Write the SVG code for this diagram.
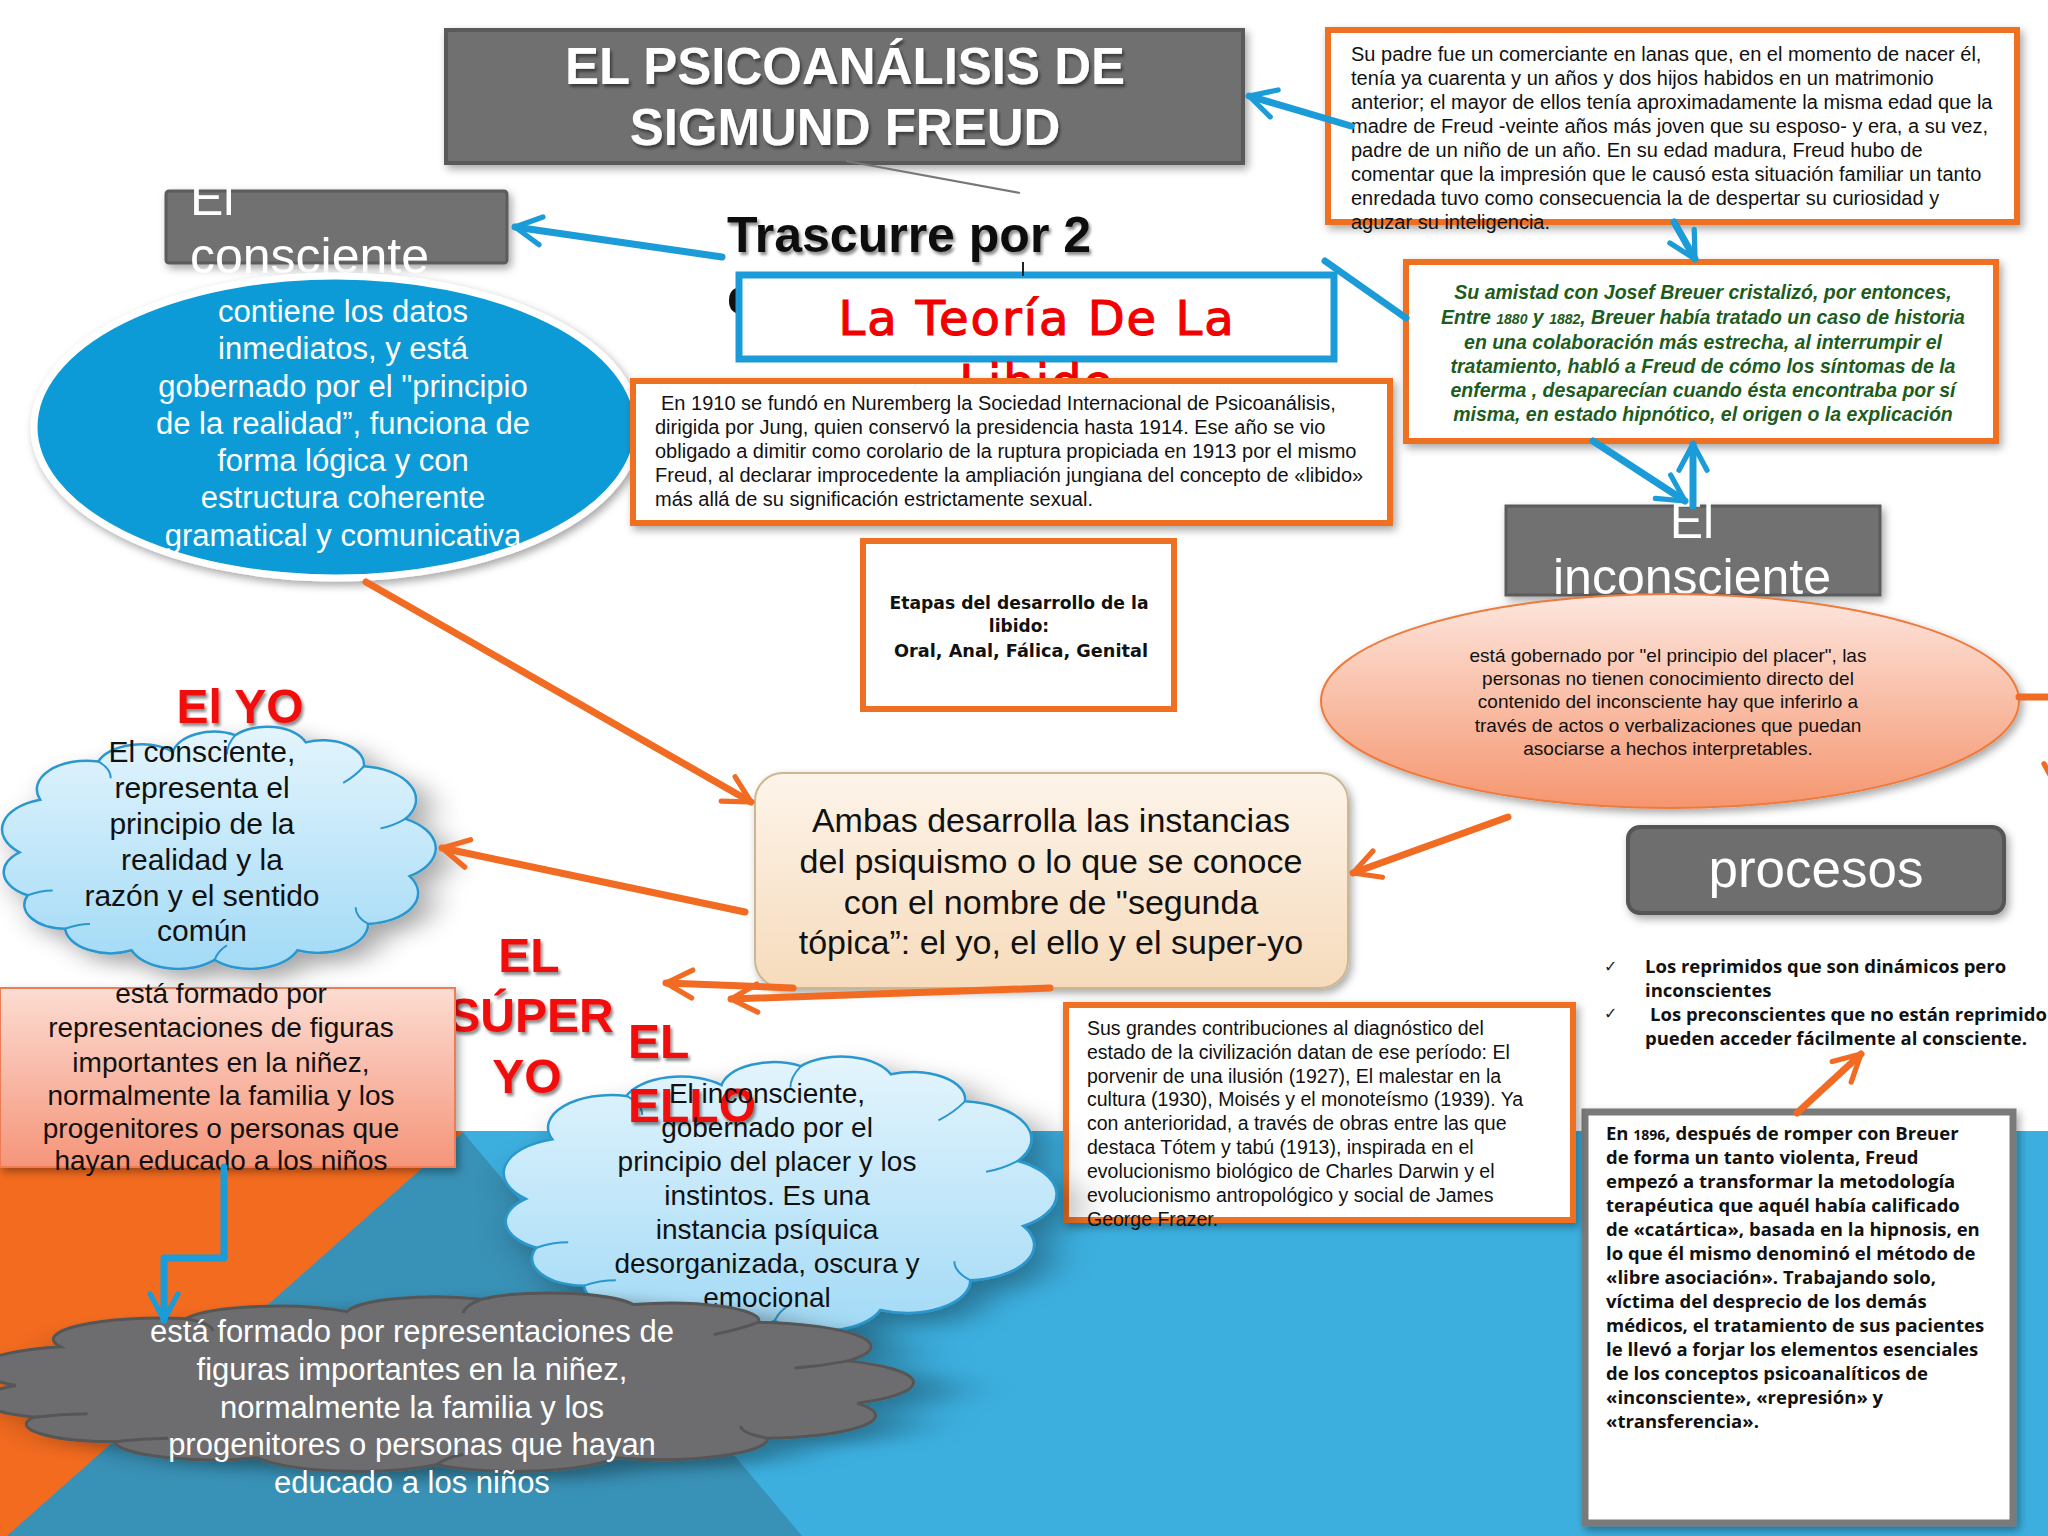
<svg xmlns="http://www.w3.org/2000/svg" xmlns:xlink="http://www.w3.org/1999/xlink" width="2048" height="1536" viewBox="0 0 2048 1536">
<style>
.s{font-family:"Liberation Sans",Arial,sans-serif}
.l{font-family:"Open Sans","Liberation Sans",sans-serif;font-weight:bold}
.c{font-family:"DejaVu Sans",sans-serif}
.m{text-anchor:middle}
.w{fill:#fff}
.k{fill:#111}
.b{font-weight:bold}
.red{fill:#f20d0d;font-weight:bold;font-family:"Liberation Sans",Arial,sans-serif;font-size:48px}
.ob{fill:#fff;stroke:#f07023;stroke-width:6}
.gb{fill:#717171;stroke:#5b5b5b;stroke-width:3}
.cb{fill:none;stroke:#1b9cd8;stroke-width:7;stroke-linecap:round;stroke-linejoin:round}
.co{fill:none;stroke:#f26b22;stroke-width:7;stroke-linecap:round;stroke-linejoin:round}
</style>
<defs>
<filter id="sh" x="-10%" y="-10%" width="130%" height="140%"><feDropShadow dx="3" dy="4" stdDeviation="4" flood-color="#000" flood-opacity="0.35"/></filter>
<filter id="ts" x="-5%" y="-10%" width="115%" height="130%"><feDropShadow dx="2" dy="3" stdDeviation="1.5" flood-color="#000" flood-opacity="0.45"/></filter>
<linearGradient id="gCloud" x1="0" y1="0" x2="0" y2="1"><stop offset="0" stop-color="#e4f5fd"/><stop offset="1" stop-color="#a2daf6"/></linearGradient>
<linearGradient id="gSalR" x1="0" y1="0" x2="0" y2="1"><stop offset="0" stop-color="#fcdcd2"/><stop offset="1" stop-color="#f5957a"/></linearGradient>
<linearGradient id="gSalE" x1="0" y1="0" x2="0" y2="1"><stop offset="0" stop-color="#fde6de"/><stop offset="1" stop-color="#f5966f"/></linearGradient>
<linearGradient id="gBeige" x1="0" y1="0" x2="0" y2="1"><stop offset="0" stop-color="#fdf4ea"/><stop offset="1" stop-color="#f6dbbb"/></linearGradient>
<path id="cloud" vector-effect="non-scaling-stroke" d="M3,52 A13,13 0 0 1 8,30 A12,12 0 0 1 22,14 A11,11 0 0 1 40,10 A10,10 0 0 1 55,3 A10,10 0 0 1 72,6 A10,10 0 0 1 86,16 A14,14 0 0 1 96,38 A14,14 0 0 1 97,62 A13,13 0 0 1 87,82 A12,12 0 0 1 70,93 A12,12 0 0 1 50,97 A12,12 0 0 1 30,93 A11,11 0 0 1 14,84 A10,10 0 0 1 5,70 A11,11 0 0 1 3,52 Z"/>
<path id="cloudIn" vector-effect="non-scaling-stroke" fill="none" d="M22,14 Q25,17 25,21 M55,3 Q53,7 53,11 M86,16 Q84,20 81,23 M96,38 Q93,41 90,42 M87,82 Q84,79 84,75 M50,97 Q51,93 53,91 M14,84 Q17,82 20,82 M5,70 Q8,68 11,68"/>
<marker id="ab" viewBox="0 0 10 10" refX="8.5" refY="5" markerWidth="5" markerHeight="5" orient="auto" markerUnits="strokeWidth"><path d="M1,1 L8.5,5 L1,9" fill="none" stroke="#1b9cd8" stroke-width="1.5" stroke-linecap="round" stroke-linejoin="round"/></marker>
<marker id="ao" viewBox="0 0 10 10" refX="8.5" refY="5" markerWidth="5" markerHeight="5" orient="auto" markerUnits="strokeWidth"><path d="M1,1 L8.5,5 L1,9" fill="none" stroke="#f26b22" stroke-width="1.5" stroke-linecap="round" stroke-linejoin="round"/></marker>
</defs>

<g id="background">
<rect x="0" y="0" width="2048" height="1536" fill="#fff"/>
<rect x="0" y="1131" width="2048" height="405" fill="#3cafdf"/>
<polygon points="462,1131 802,1536 0,1536 0,1131" fill="#3891b6"/>
<polygon points="0,1131 464,1131 0,1542" fill="#f36b1f"/>
</g>

<g id="n-title">
<rect x="446" y="30" width="797" height="133" fill="#707070" stroke="#5a5a5a" stroke-width="4" filter="url(#sh)"/>
<text class="s b w m" x="845" y="84" font-size="51" filter="url(#ts)">EL PSICOANÁLISIS DE</text>
<text class="s b w m" x="845" y="145" font-size="51" filter="url(#ts)">SIGMUND FREUD</text>
</g>

<g id="n-trascurre">
<text class="s b k" x="727" y="252" font-size="50" filter="url(#ts)">Trascurre por 2</text>
<text class="s b k" x="727" y="314" font-size="50">c</text>
</g>

<g id="n-consciente">
<rect x="166" y="191" width="341" height="72" rx="3" class="gb" filter="url(#sh)"/>
<text class="s w" x="190" y="215" font-size="50">El</text>
<text class="s w" x="190" y="273" font-size="50">consciente</text>
</g>

<g id="n-consciente-desc">
<ellipse cx="336" cy="427" rx="302" ry="151" fill="#0f9bd7" stroke="#fff" stroke-width="7" filter="url(#sh)"/>
<g class="s w m" font-size="31">
<text x="343" y="322">contiene los datos</text>
<text x="343" y="359">inmediatos, y está</text>
<text x="343" y="397">gobernado por el "principio</text>
<text x="343" y="434">de la realidad”, funciona de</text>
<text x="343" y="471">forma lógica y con</text>
<text x="343" y="508">estructura coherente</text>
<text x="343" y="546">gramatical y comunicativa</text>
</g>
</g>

<g id="n-libido">
<rect x="739" y="275" width="595" height="84" fill="#fff" stroke="#1b9cd8" stroke-width="7"/>
<text class="c m" x="1037" y="335" font-size="48" fill="#f20000" stroke="#f20000" stroke-width="1.2" letter-spacing="2">La Teoría De La</text>
<text class="c m" x="1037" y="399" font-size="48" fill="#f20000" stroke="#f20000" stroke-width="1.2" letter-spacing="2">Libido</text>
</g>

<g id="n-1910">
<rect x="633" y="381" width="757" height="142" class="ob" filter="url(#sh)"/>
<g class="s k" font-size="20">
<text x="661" y="410">En 1910 se fundó en Nuremberg la Sociedad Internacional de Psicoanálisis,</text>
<text x="655" y="434">dirigida por Jung, quien conservó la presidencia hasta 1914. Ese año se vio</text>
<text x="655" y="458">obligado a dimitir como corolario de la ruptura propiciada en 1913 por el mismo</text>
<text x="655" y="482">Freud, al declarar improcedente la ampliación jungiana del concepto de «libido»</text>
<text x="655" y="506">más allá de su significación estrictamente sexual.</text>
</g>
</g>

<g id="n-etapas">
<rect x="863" y="541" width="311" height="168" class="ob"/>
<g class="c b k m" font-size="17">
<text x="1019" y="609" textLength="259" lengthAdjust="spacingAndGlyphs">Etapas del desarrollo de la</text>
<text x="1019" y="632">libido:</text>
<text x="1021" y="657" textLength="254" lengthAdjust="spacingAndGlyphs">Oral, Anal, Fálica, Genital</text>
</g>
</g>

<g id="n-padre">
<rect x="1328" y="30" width="689" height="192" class="ob" filter="url(#sh)"/>
<g class="s k" font-size="20">
<text x="1351" y="61">Su padre fue un comerciante en lanas que, en el momento de nacer él,</text>
<text x="1351" y="85">tenía ya cuarenta y un años y dos hijos habidos en un matrimonio</text>
<text x="1351" y="109">anterior; el mayor de ellos tenía aproximadamente la misma edad que la</text>
<text x="1351" y="133">madre de Freud -veinte años más joven que su esposo- y era, a su vez,</text>
<text x="1351" y="157">padre de un niño de un año. En su edad madura, Freud hubo de</text>
<text x="1351" y="181">comentar que la impresión que le causó esta situación familiar un tanto</text>
<text x="1351" y="205">enredada tuvo como consecuencia la de despertar su curiosidad y</text>
<text x="1351" y="229">aguzar su inteligencia.</text>
</g>
</g>

<g id="n-breuer">
<rect x="1406" y="262" width="590" height="179" class="ob" filter="url(#sh)"/>
<g class="s b m" font-size="19.5" font-style="italic" fill="#1d5c1d">
<text x="1703" y="299">Su amistad con Josef Breuer cristalizó, por entonces,</text>
<text x="1703" y="324">Entre <tspan font-size="14">1880</tspan> y <tspan font-size="14">1882</tspan>, Breuer había tratado un caso de historia</text>
<text x="1703" y="349">en una colaboración más estrecha, al interrumpir el</text>
<text x="1703" y="373">tratamiento, habló a Freud de cómo los síntomas de la</text>
<text x="1703" y="397">enferma , desaparecían cuando ésta encontraba por sí</text>
<text x="1703" y="421">misma, en estado hipnótico, el origen o la explicación</text>
</g>
</g>

<g id="n-inconsciente">
<rect x="1506" y="506" width="374" height="89" class="gb" filter="url(#sh)"/>
<text class="s w m" x="1692" y="538" font-size="50">El</text>
<text class="s w m" x="1692" y="594" font-size="50">inconsciente</text>
</g>

<g id="n-inconsciente-desc">
<ellipse cx="1670" cy="701" rx="349" ry="107" fill="url(#gSalE)" stroke="#ee7a3c" stroke-width="2" filter="url(#sh)"/>
<g class="s k m" font-size="19">
<text x="1668" y="662">está gobernado por "el principio del placer", las</text>
<text x="1668" y="685">personas no tienen conocimiento directo del</text>
<text x="1668" y="708">contenido del inconsciente hay que inferirlo a</text>
<text x="1668" y="732">través de actos o verbalizaciones que puedan</text>
<text x="1668" y="755">asociarse a hechos interpretables.</text>
</g>
</g>

<g id="n-procesos">
<rect x="1628" y="827" width="376" height="86" rx="12" fill="#6e6e6e" stroke="#545454" stroke-width="4" filter="url(#sh)"/>
<text class="s w m" x="1816" y="887" font-size="53">procesos</text>
</g>

<g id="n-lista">
<text class="c" x="1604" y="972" font-size="16" fill="#222">✓</text>
<text class="c" x="1604" y="1019" font-size="16" fill="#222">✓</text>
<g class="l k" font-size="18.5">
<text x="1645" y="973">Los reprimidos que son dinámicos pero</text>
<text x="1645" y="997">inconscientes</text>
<text x="1650" y="1021">Los preconscientes que no están reprimido</text>
<text x="1645" y="1045">pueden acceder fácilmente al consciente.</text>
</g>
</g>

<g id="n-1896">
<rect x="1585" y="1112" width="428" height="411" fill="#fff" stroke="#7a7a7a" stroke-width="7" filter="url(#sh)"/>
<g class="l k" font-size="18.5">
<text x="1606" y="1140">En <tspan font-size="14">1896</tspan>, después de romper con Breuer</text>
<text x="1606" y="1164">de forma un tanto violenta, Freud</text>
<text x="1606" y="1188">empezó a transformar la metodología</text>
<text x="1606" y="1212">terapéutica que aquél había calificado</text>
<text x="1606" y="1236">de «catártica», basada en la hipnosis, en</text>
<text x="1606" y="1260">lo que él mismo denominó el método de</text>
<text x="1606" y="1284">«libre asociación». Trabajando solo,</text>
<text x="1606" y="1308">víctima del desprecio de los demás</text>
<text x="1606" y="1332">médicos, el tratamiento de sus pacientes</text>
<text x="1606" y="1356">le llevó a forjar los elementos esenciales</text>
<text x="1606" y="1380">de los conceptos psicoanalíticos de</text>
<text x="1606" y="1404">«inconsciente», «represión» y</text>
<text x="1606" y="1428">«transferencia».</text>
</g>
</g>

<g id="n-obras">
<rect x="1066" y="1005" width="507" height="215" class="ob" filter="url(#sh)"/>
<g class="s k" font-size="19.5">
<text x="1087" y="1035">Sus grandes contribuciones al diagnóstico del</text>
<text x="1087" y="1059">estado de la civilización datan de ese período: El</text>
<text x="1087" y="1083">porvenir de una ilusión (1927), El malestar en la</text>
<text x="1087" y="1106">cultura (1930), Moisés y el monoteísmo (1939). Ya</text>
<text x="1087" y="1130">con anterioridad, a través de obras entre las que</text>
<text x="1087" y="1154">destaca Tótem y tabú (1913), inspirada en el</text>
<text x="1087" y="1178">evolucionismo biológico de Charles Darwin y el</text>
<text x="1087" y="1202">evolucionismo antropológico y social de James</text>
<text x="1087" y="1226">George Frazer.</text>
</g>
</g>

<g id="n-topica">
<rect x="755" y="773" width="593" height="215" rx="28" fill="url(#gBeige)" stroke="#cdb793" stroke-width="2" filter="url(#sh)"/>
<g class="s k m" font-size="34">
<text x="1051" y="832">Ambas desarrolla las instancias</text>
<text x="1051" y="873">del psiquismo o lo que se conoce</text>
<text x="1051" y="914">con el nombre de "segunda</text>
<text x="1051" y="954">tópica”: el yo, el ello y el super-yo</text>
</g>
</g>

<g id="n-yo">
<text class="red m" x="240" y="723" font-size="50" filter="url(#ts)">El YO</text>
<use href="#cloud" transform="translate(7,728) scale(4.15,2.39)" fill="url(#gCloud)" stroke="#2b97cf" stroke-width="2.5" filter="url(#sh)"/>
<use href="#cloudIn" transform="translate(7,728) scale(4.15,2.39)" stroke="#2b97cf" stroke-width="2"/>
<g class="s k m" font-size="30">
<text x="202" y="762">El consciente,</text>
<text x="202" y="798">representa el</text>
<text x="202" y="834">principio de la</text>
<text x="202" y="870">realidad y la</text>
<text x="202" y="906">razón y el sentido</text>
<text x="202" y="941">común</text>
</g>
</g>

<g id="n-superyo">
<g class="red m" filter="url(#ts)">
<text x="529" y="972">EL</text>
<text x="531" y="1032">SÚPER</text>
<text x="527" y="1093">YO</text>
</g>
<rect x="0" y="988" width="455" height="179" fill="url(#gSalR)" stroke="#ee7d55" stroke-width="2" filter="url(#sh)"/>
<g class="s k m" font-size="28">
<text x="221" y="1003">está formado por</text>
<text x="221" y="1037">representaciones de figuras</text>
<text x="221" y="1072">importantes en la niñez,</text>
<text x="221" y="1105">normalmente la familia y los</text>
<text x="221" y="1138">progenitores o personas que</text>
<text x="221" y="1170">hayan educado a los niños</text>
</g>
</g>

<g id="n-ello">
<use href="#cloud" transform="translate(510,1058) scale(5.29,2.71)" fill="url(#gCloud)" stroke="#2b97cf" stroke-width="2.5" filter="url(#sh)"/>
<use href="#cloudIn" transform="translate(510,1058) scale(5.29,2.71)" stroke="#2b97cf" stroke-width="2"/>
<g class="red" filter="url(#ts)">
<text x="628" y="1058">EL</text>
<text x="628" y="1122">ELLO</text>
</g>
<g class="s k m" font-size="28">
<text x="767" y="1103">El inconsciente,</text>
<text x="767" y="1137">gobernado por el</text>
<text x="767" y="1171">principio del placer y los</text>
<text x="767" y="1205">instintos. Es una</text>
<text x="767" y="1239">instancia psíquica</text>
<text x="767" y="1273">desorganizada, oscura y</text>
<text x="767" y="1307">emocional</text>
</g>
</g>

<g id="n-gris">
<use href="#cloud" transform="translate(-11,1294) scale(8.95,1.76)" fill="#6d6d70" stroke="#565656" stroke-width="3" filter="url(#sh)"/>
<use href="#cloudIn" transform="translate(-11,1294) scale(8.95,1.76)" stroke="#565656" stroke-width="3"/>
<g class="s w m" font-size="31">
<text x="412" y="1342">está formado por representaciones de</text>
<text x="412" y="1380">figuras importantes en la niñez,</text>
<text x="412" y="1418">normalmente la familia y los</text>
<text x="412" y="1455">progenitores o personas que hayan</text>
<text x="412" y="1493">educado a los niños</text>
</g>
</g>

<g id="connectors">
<line x1="846" y1="161" x2="1020" y2="193" stroke="#777" stroke-width="2"/>
<line x1="1023" y1="262" x2="1023" y2="276" stroke="#222" stroke-width="2"/>
<line class="cb" x1="722" y1="257" x2="515" y2="227" marker-end="url(#ab)"/>
<line class="cb" x1="1351" y1="126" x2="1249" y2="96" marker-end="url(#ab)"/>
<line class="cb" x1="1674" y1="222" x2="1695" y2="259" marker-end="url(#ab)"/>
<line class="cb" x1="1325" y1="261" x2="1406" y2="318"/>
<line class="cb" x1="1593" y1="441" x2="1685" y2="501" marker-end="url(#ab)"/>
<line class="cb" x1="1693" y1="506" x2="1693" y2="444" marker-end="url(#ab)"/>
<polyline class="cb" points="224,1167 224,1258 164,1258 164,1320" marker-end="url(#ab)"/>
<line class="co" x1="366" y1="582" x2="751" y2="802" marker-end="url(#ao)"/>
<line class="co" x1="745" y1="912" x2="442" y2="848" marker-end="url(#ao)"/>
<line class="co" x1="793" y1="988" x2="666" y2="983" marker-end="url(#ao)"/>
<line class="co" x1="1050" y1="988" x2="731" y2="999" marker-end="url(#ao)"/>
<line class="co" x1="1508" y1="817" x2="1353" y2="873" marker-end="url(#ao)"/>
<line class="co" x1="1797" y1="1113" x2="1861" y2="1054" marker-end="url(#ao)"/>
<polyline class="co" points="2019,697 2058,697 2058,790" marker-end="url(#ao)"/>
</g>
</svg>
